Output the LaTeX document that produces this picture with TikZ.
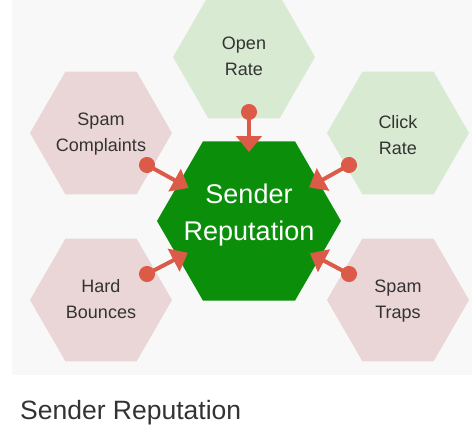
\documentclass[tikz,border=0pt]{standalone}
\usepackage{fontspec}
\setmainfont{Liberation Sans}
\usepackage{xcolor}
\usetikzlibrary{shapes.geometric,arrows.meta}

\definecolor{bgGray}{HTML}{F8F8F8}
\definecolor{hexPink}{HTML}{EAD6D6}
\definecolor{hexMint}{HTML}{D9EAD3}
\definecolor{hexGreen}{HTML}{0B8F0B}
\definecolor{linkRed}{HTML}{DC5A48}
\definecolor{txtGray}{HTML}{333333}

% text that does not push the hexagon wider
\newcommand{\slimtext}[1]{\makebox[0pt]{\begin{tabular}{@{}c@{}}#1\end{tabular}}}
% same, without height, lifted by #1
\newcommand{\flattext}[2]{\raisebox{#1}[0pt][0pt]{\slimtext{#2}}}

\tikzset{
  hexbox/.style={regular polygon, regular polygon sides=6, minimum size=142pt,
    inner sep=0pt, align=center, text=txtGray, font=\fontsize{18}{26}\selectfont},
  badhex/.style={hexbox, fill=hexPink},
  goodhex/.style={hexbox, fill=hexMint},
  link/.style={linkRed, line width=4pt, shorten <=-8pt, shorten >=-11pt,
    {Circle[length=16pt]}-{Triangle[width=25pt,length=16pt]}},
}

\begin{document}
\begin{tikzpicture}[x=1pt, y=-1pt]
  \useasboundingbox (0,0) rectangle (472,438);
  \clip (0,0) rectangle (472,438);
  \fill[bgGray] (12,0) rectangle (472,375);

  % surrounding hexagons
  \node[goodhex] (openRate)   at (244,57)  {\slimtext{Open\\Rate}};
  \node[badhex]  (complaints) at (101,133) {\slimtext{Spam\\Complaints}};
  \node[goodhex] (clickRate)  at (398,133) {\flattext{-7.5pt}{Click\\Rate}};
  \node[badhex]  (bounces)    at (101,300) {\slimtext{Hard\\Bounces}};
  \node[badhex]  (traps)      at (398,300) {\slimtext{Spam\\Traps}};

  % centre
  \node[regular polygon, regular polygon sides=6, minimum size=184pt, inner sep=0pt,
    fill=hexGreen, text=white, font=\fontsize{27}{37}\selectfont]
    (sender) at (249,221) {\flattext{0pt}{Sender\\Reputation}};

  % dots where the arrows start
  \coordinate (openDot)       at (249,112);
  \coordinate (complaintsDot) at (147,165);
  \coordinate (clickDot)      at (349,165);
  \coordinate (bouncesDot)    at (147,274);
  \coordinate (trapsDot)      at (349,274);

  \draw[link] (openDot) -- (sender);
  \draw[link] (complaintsDot) -- (sender);
  \draw[link] (clickDot) -- (sender);
  \draw[link] (bouncesDot) -- (sender);
  \draw[link] (trapsDot) -- (sender);

  \node[anchor=base west, inner sep=0pt, text=txtGray, font=\fontsize{26.5}{30}\selectfont]
    (caption) at (20,420) {Sender Reputation};
\end{tikzpicture}
\end{document}
